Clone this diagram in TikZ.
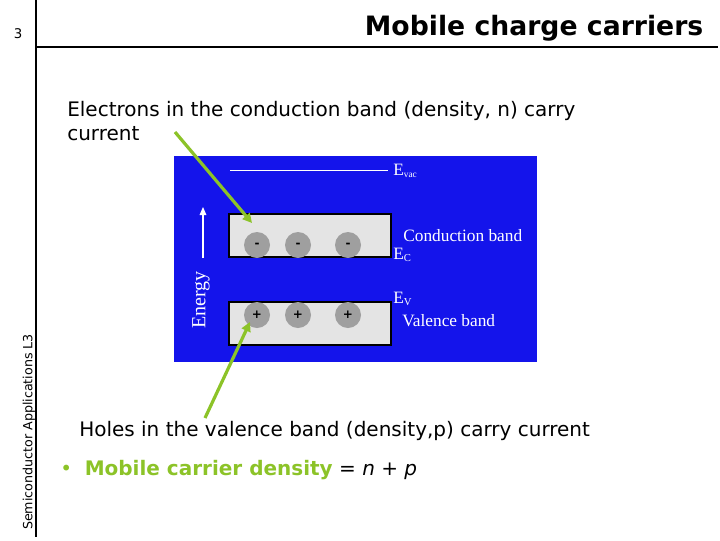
\documentclass[tikz,border=0pt]{standalone}
\usepackage{fontspec}
\setmainfont{DejaVu Sans}
\newfontfamily\bandfont{Liberation Serif}
\usetikzlibrary{arrows.meta}
\definecolor{slideblue}{RGB}{20,20,235}
\definecolor{pointgreen}{RGB}{140,195,40}
\definecolor{bandgrey}{RGB}{228,228,228}
\tikzset{
	band/.style={draw=black, thick, fill=bandgrey},
	carrier/.style={circle, fill=gray!75, minimum size=19.5, inner sep=0pt, font=\bfseries\small},
	bandlabel/.style={anchor=west, text=white, font=\bandfont\fontsize{13}{13}\selectfont, inner sep=0pt},
	pointer/.style={-{Triangle[length=7pt,width=7pt]}, pointgreen, line width=2.4pt},
	bodytext/.style={anchor=west, inner sep=0pt, font=\fontsize{15}{18}\selectfont},
}
\begin{document}
\begin{tikzpicture}[x=0.75pt, y=-0.75pt]
	\useasboundingbox (0,0) rectangle (720,540);
	% frame
	\draw [thick] (36,0) -- (36,537);
	\draw [thick] (36,47) -- (718,47);
	\node (num) at (18,34) {\fontsize{10}{10}\selectfont 3};
	\node [anchor=east] (title) at (708,28) {\fontsize{20}{20}\selectfont\bfseries Mobile charge carriers};
	\node [rotate=90] (side) at (29,432) {\fontsize{9.5}{9.5}\selectfont Semiconductor Applications L3};

	% band diagram
	\fill [slideblue] (174,156) rectangle (537,362);
	\draw [white, thin] (230,170) -- (388,170);
	\node [bandlabel] (evac) at (393,171) {E\raisebox{-0.3ex}{\fontsize{7}{7}\selectfont vac}};
	\draw [band] (229,214) rectangle (391,257);
	\draw [band] (229,302) rectangle (391,345);
	% carriers
	\foreach \x [count=\i] in {257,298,348} {
		\node [carrier] (e\i) at (\x,245) {-};
		\node [carrier] (h\i) at (\x,315) {+};
	}
	\node [bandlabel] (cb) at (403,236) {Conduction band};
	\node [bandlabel] (ec) at (393,255) {E\raisebox{-0.3ex}{\fontsize{8}{8}\selectfont C}};
	\node [bandlabel] (ev) at (393,299) {E\raisebox{-0.3ex}{\fontsize{8}{8}\selectfont V}};
	\node [bandlabel] (vb) at (402,321) {Valence band};
	\coordinate (elow) at (203,258);
	\coordinate (ehigh) at (203,207);
	\draw [white, thick, -{Triangle[length=6pt,width=5pt]}] (elow) -- (ehigh);
	\node [rotate=90, text=white, font=\bandfont\fontsize{15}{15}\selectfont] (energy) at (201,300) {Energy};

	% texts
	\node [bodytext, anchor=north west, align=left] (etext) at (67,101)
		{Electrons in the conduction band (density, n) carry\\current};
	\node [bodytext] (htext) at (79,431)
		{Holes in the valence band (density,p) carry current};
	\node [bodytext] (bullet) at (60,470)
		{\textcolor{pointgreen}{\textbullet\ \ \textbf{Mobile carrier density}} = \textit{n} + \textit{p}};

	% pointers
	\coordinate (etail) at (175,132);
	\coordinate (htail) at (205,418);
	\draw [pointer] (etail) -- (252,223);
	\draw [pointer] (htail) -- (250,322);
\end{tikzpicture}
\end{document}
